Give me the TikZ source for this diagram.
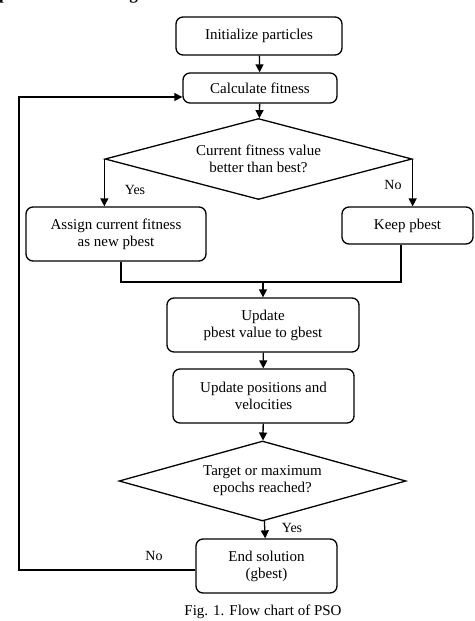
\documentclass[tikz,border=0pt]{standalone}
\usepackage{fontspec}
\setmainfont{Liberation Serif}
\usetikzlibrary{shapes.geometric,arrows.meta}
\begin{document}
\begin{tikzpicture}[x=1pt,y=-1pt,
  every node/.style={font=\fontsize{15}{17}\selectfont},
  box/.style={draw,rounded corners=7pt,line width=1.3pt,inner sep=0pt,align=center},
  dec/.style={draw,diamond,line width=1.3pt,inner sep=0pt,aspect=3.8,align=center},
  lbl/.style={font=\fontsize{14}{16}\selectfont,inner sep=0pt},
  conn/.style={line width=1.3pt},
  arr/.style={conn,-{Triangle[length=8pt,width=8pt]}}]
\useasboundingbox (0,0) rectangle (474,621);
\node[anchor=base west,inner sep=0pt,font=\fontsize{17}{18}\selectfont\bfseries] (top) at (-1,0) {premature convergence.};
\node[box,minimum width=166pt,minimum height=38pt] (init) at (259,36) {Initialize particles};
\node[box,minimum width=154pt,minimum height=30pt] (calc) at (260,88) {\raisebox{-4pt}{Calculate fitness}};
\node[dec,minimum width=307pt,minimum height=81pt] (d1) at (258.5,159) {Current fitness value\\better than best?};
\node[box,minimum width=180pt,minimum height=54pt] (assign) at (116,234) {Assign current fitness\\as new pbest};
\node[box,minimum width=131pt,minimum height=37pt] (keep) at (407.5,225.5) {Keep pbest};
\node[box,minimum width=192pt,minimum height=54pt] (upd) at (263,325) {Update\\pbest value to gbest};
\node[box,minimum width=181pt,minimum height=54pt] (pos) at (263.5,396) {Update positions and\\velocities};
\node[dec,minimum width=287pt,minimum height=80pt] (d2) at (262.5,481) {Target or maximum\\epochs reached?};
\node[box,minimum width=141pt,minimum height=54pt] (end) at (266.5,566) {End solution\\(gbest)};
\node[font=\fontsize{15}{17}\selectfont,inner sep=0pt] (cap) at (263,612) {Fig. 1. Flow chart of PSO};
\coordinate (m) at (263,282);
\coordinate (lb) at (19,570);
\coordinate (lt) at (19,97);
\draw[arr] (init) -- (calc);
\draw[arr] (calc) -- (d1);
\draw[arr] (d1.west) -- (d1.west |- assign.north);
\draw[arr] (d1.east) -- (d1.east |- keep.north);
\node[lbl] (yes1) at (135,190) {Yes};
\node[lbl] (no1) at (393,185) {No};
\draw[conn] ([xshift=5pt]assign.south) |- (m) -| ([xshift=-6.5pt]keep.south);
\draw[arr] (m) -- (upd.north);
\draw[arr] (upd) -- (pos);
\draw[arr] (pos) -- (d2);
\draw[arr] (d2) -- (end);
\node[lbl] (yes2) at (292,528) {Yes};
\draw[arr] ([yshift=-4pt]end.west) -- (lb) -- (lt) -- ([yshift=-9pt]calc.west);
\node[lbl] (no2) at (154,556) {No};
\end{tikzpicture}
\end{document}
